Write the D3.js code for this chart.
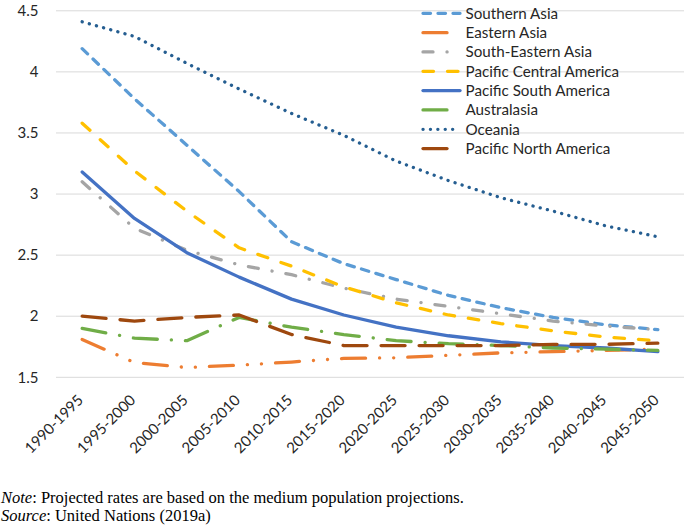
<!DOCTYPE html>
<html>
<head>
<meta charset="utf-8">
<script src="https://cdn.jsdelivr.net/npm/d3@7"></script>
<style>
  body { margin: 0; background: #fff; }
  #chart { width: 685px; height: 526px; }
</style>
</head>
<body>
<div id="chart"></div>
<script>
// categories & series (total fertility rate)
const categories = ['1990-1995', '1995-2000', '2000-2005', '2005-2010', '2010-2015', '2015-2020',
  '2020-2025', '2025-2030', '2030-2035', '2035-2040', '2040-2045', '2045-2050'];

const southernAsia = [4.19, 3.78, 3.40, 3.02, 2.61, 2.43, 2.30, 2.17, 2.07, 1.99, 1.93, 1.89];
const easternAsia = [1.81, 1.62, 1.58, 1.60, 1.625, 1.655, 1.66, 1.68, 1.70, 1.71, 1.72, 1.73];
const southEasternAsia = [3.10, 2.72, 2.54, 2.42, 2.34, 2.23, 2.14, 2.08, 2.02, 1.96, 1.92, 1.89];
const pacificCentralAmerica = [3.58, 3.19, 2.86, 2.56, 2.41, 2.24, 2.11, 2.01, 1.94, 1.88, 1.83, 1.80];
const pacificSouthAmerica = [3.18, 2.80, 2.52, 2.32, 2.14, 2.01, 1.91, 1.84, 1.79, 1.76, 1.74, 1.71];
const australasia = [1.90, 1.82, 1.80, 1.99, 1.91, 1.85, 1.80, 1.775, 1.76, 1.74, 1.73, 1.72];
const oceania = [4.41, 4.29, 4.07, 3.86, 3.66, 3.48, 3.27, 3.11, 2.97, 2.86, 2.74, 2.65];
const pacificNorthAmerica = [2.00, 1.96, 1.99, 2.01, 1.85, 1.76, 1.76, 1.76, 1.76, 1.77, 1.77, 1.78];

const yTicks = [1.5, 2, 2.5, 3, 3.5, 4, 4.5];

const series = [
  { name: 'Southern Asia', values: southernAsia, color: '#5b9bd5', dash: '7.5,7.5' },
  { name: 'Eastern Asia', values: easternAsia, color: '#ed7d31', dash: '24,14,0.1,14,0.1,14' },
  { name: 'South-Eastern Asia', values: southEasternAsia, color: '#a5a5a5', dash: '10,14,0.1,14' },
  { name: 'Pacific Central America', values: pacificCentralAmerica, color: '#ffc000', dash: '10.5,14' },
  { name: 'Pacific South America', values: pacificSouthAmerica, color: '#4472c4', dash: null },
  { name: 'Australasia', values: australasia, color: '#70ad47', dash: '24,14,0.1,14' },
  { name: 'Oceania', values: oceania, color: '#255e91', dash: '0.1,7.3' },
  { name: 'Pacific North America', values: pacificNorthAmerica, color: '#9e480e', dash: '24,14' }
];

const width = 685;
const height = 526;

const svg = d3.select('#chart').append('svg')
  .attr('width', width)
  .attr('height', height);

const x = d3.scaleBand().domain(categories).range([56, 684]);
const y = d3.scaleLinear().domain([1.5, 4.5]).range([377.3, 10.8]);
const cx = d => x(d) + x.bandwidth() / 2;

// gridlines
svg.append('g')
  .selectAll('line')
  .data(yTicks)
  .enter()
  .append('line')
  .attr('x1', 56)
  .attr('x2', 684)
  .attr('y1', d => y(d))
  .attr('y2', d => y(d))
  .style('stroke', '#d9d9d9')
  .style('stroke-width', 1);

// y labels
svg.append('g')
  .selectAll('text')
  .data(yTicks)
  .enter()
  .append('text')
  .attr('x', 38.5)
  .attr('y', d => y(d))
  .attr('dy', '0.35em')
  .attr('text-anchor', 'end')
  .style('font-family', 'Lato, sans-serif')
  .style('font-size', '15px')
  .style('fill', '#262626')
  .text(d => d);

// x labels, rotated
svg.append('g')
  .selectAll('text')
  .data(categories)
  .enter()
  .append('text')
  .attr('transform', d => `translate(${cx(d) + 2},${401}) rotate(-45)`)
  .attr('text-anchor', 'end')
  .style('font-family', 'Lato, sans-serif')
  .style('font-size', '15px')
  .style('fill', '#262626')
  .text(d => d);

// lines
const line = d3.line()
  .x((d, i) => cx(categories[i]))
  .y(d => y(d));

svg.append('g')
  .selectAll('path')
  .data(series)
  .enter()
  .append('path')
  .attr('d', d => line(d.values))
  .style('fill', 'none')
  .style('stroke', d => d.color)
  .style('stroke-width', 3.3)
  .style('stroke-linecap', 'round')
  .style('stroke-linejoin', 'round')
  .style('stroke-dasharray', d => d.dash);

// legend
const legend = svg.append('g')
  .selectAll('g')
  .data(series)
  .enter()
  .append('g')
  .attr('transform', (d, i) => `translate(0,${13.3 + i * 19.33})`);

legend.append('line')
  .attr('x1', 423)
  .attr('x2', 460)
  .attr('y1', 0)
  .attr('y2', 0)
  .style('stroke', d => d.color)
  .style('stroke-width', 3.3)
  .style('stroke-linecap', 'round')
  .style('stroke-dasharray', d => d.dash);

legend.append('text')
  .attr('x', 465.5)
  .attr('y', 0)
  .attr('dy', '0.35em')
  .style('font-family', 'Lato, sans-serif')
  .style('font-size', '15.2px')
  .style('fill', '#262626')
  .text(d => d.name);

// note & source
const note = svg.append('text')
  .attr('x', 1)
  .attr('y', 502.5)
  .style('font-family', '"Liberation Serif", serif')
  .style('font-size', '16.5px')
  .style('fill', '#000');
note.append('tspan').style('font-style', 'italic').text('Note');
note.append('tspan').text(': Projected rates are based on the medium population projections.');

const source = svg.append('text')
  .attr('x', 1)
  .attr('y', 521)
  .style('font-family', '"Liberation Serif", serif')
  .style('font-size', '16.5px')
  .style('fill', '#000');
source.append('tspan').style('font-style', 'italic').text('Source');
source.append('tspan').text(': United Nations (2019a)');
</script>
</body>
</html>
